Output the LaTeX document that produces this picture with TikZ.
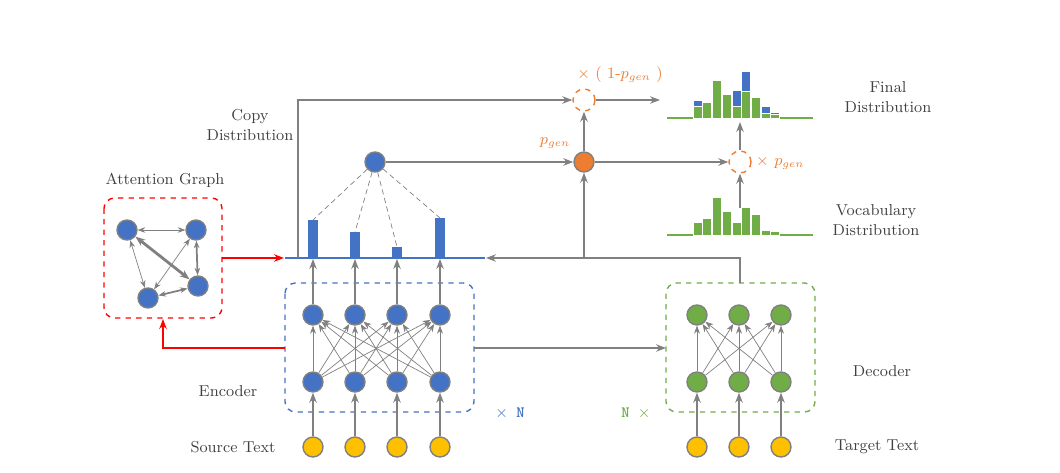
\documentclass[tikz,border=0pt]{standalone}
\usepackage{tikz}
\usetikzlibrary
  {
    arrows.meta,              % arrow heads
    positioning,              % place nodes relative to other nodes
    calc,
  }
\definecolor{encblue}{RGB}{68,114,196}
\definecolor{decgreen}{RGB}{112,173,71}
\definecolor{genorange}{RGB}{237,125,49}
\definecolor{srcyellow}{RGB}{255,192,0}
\definecolor{wire}{RGB}{128,128,128}
\definecolor{txt}{RGB}{64,64,64}

\begin{document}
\begin{tikzpicture}
    [
      x=0.2mm, y=-0.2mm,
      unit/.style=
        {
          circle,
          draw=wire,
          thick,
          minimum size=4mm,
          inner sep=0pt,
        },
      enc/.style={unit, fill=encblue},
      dec/.style={unit, fill=decgreen},
      src/.style={unit, fill=srcyellow},
      mult/.style=
        {
          circle,
          draw=genorange,
          dashed,
          thick,
          minimum size=4.4mm,
          inner sep=0pt,
        },
      flow/.style={draw=wire, thick, -{Stealth[length=2mm]}},
      label text/.style={text=txt, font=\small, align=center},
      orange text/.style={text=genorange, font=\small},
    ]
    \useasboundingbox (0,0) rectangle (1060,473);

    % encoder stack
    \draw[encblue, dashed, thick, rounded corners=6pt] (285,283) rectangle (474,412);
    \foreach \i/\x in {1/313,2/355,3/397,4/440}
      {
        \node[src] (s\i) at (\x,447) {};
        \node[enc] (eb\i) at (\x,382) {};
        \node[enc] (et\i) at (\x,315) {};
        \draw[flow] (s\i) -- (eb\i);
      }
    \foreach \i in {1,...,4}
      \foreach \j in {1,...,4}
        \draw[draw=wire, -{Stealth[length=1.6mm]}] (eb\i) -- (et\j);

    % decoder stack
    \draw[decgreen, dashed, thick, rounded corners=6pt] (666,283) rectangle (815,412);
    \foreach \i/\x in {1/697,2/739,3/781}
      {
        \node[src] (t\i) at (\x,447) {};
        \node[dec] (db\i) at (\x,382) {};
        \node[dec] (dt\i) at (\x,315) {};
        \draw[flow] (t\i) -- (db\i);
      }
    \foreach \i in {1,...,3}
      \foreach \j in {1,...,3}
        \draw[draw=wire, -{Stealth[length=1.6mm]}] (db\i) -- (dt\j);

    \coordinate (enc right) at (474,348);
    \coordinate (dec left)  at (666,348);
    \draw[flow] (enc right) -- (dec left);

    \node[label text] at (228,391) {Encoder};
    \node[label text] at (233,447) {Source Text};
    \node[label text] at (882,371) {Decoder};
    \node[label text] at (877,447) {Target Text};
    \node[text=encblue, font=\small\bfseries\ttfamily] at (510,413) {$\times$ N};
    \node[text=decgreen, font=\small\bfseries\ttfamily] at (636,413) {N $\times$};

    % copy distribution
    \draw[encblue, thick] (285,258) -- (485,258);
    \node[enc] (copy) at (375,162) {};
    \foreach \i/\x/\h in {1/313/220,2/355/232,3/397/247,4/440/218}
      {
        \fill[encblue] (\x-5,258) rectangle (\x+5,\h);
        \coordinate (bar\i) at (\x,\h);
        \draw[wire, densely dashed] (copy) -- (bar\i);
        \draw[flow] (et\i) -- (\x,259);
      }
    \node[label text] at (250,125) {Copy\\Distribution};

    % attention graph
    \draw[red, dashed, thick, rounded corners=6pt] (104,198) rectangle (222,318);
    \node[enc] (g1) at (127,230) {};
    \node[enc] (g2) at (196,230) {};
    \node[enc] (g3) at (148,298) {};
    \node[enc] (g4) at (198,286) {};
    \draw[wire, {Stealth[length=1.5mm]}-{Stealth[length=1.5mm]}] (g1) -- (g2);
    \draw[wire, {Stealth[length=1.5mm]}-{Stealth[length=1.5mm]}] (g1) -- (g3);
    \draw[wire, line width=1.6pt, {Stealth[length=2mm]}-{Stealth[length=2mm]}] (g1) -- (g4);
    \draw[wire, {Stealth[length=1.5mm]}-{Stealth[length=1.5mm]}] (g2) -- (g3);
    \draw[wire, line width=1pt, {Stealth[length=1.5mm]}-{Stealth[length=1.5mm]}] (g2) -- (g4);
    \draw[wire, line width=1pt, {Stealth[length=1.5mm]}-{Stealth[length=1.5mm]}] (g3) -- (g4);
    \node[label text] at (165,180) {Attention Graph};
    \draw[red, very thick, -{Stealth[length=2mm]}] (222,258) -- (284,258);
    \draw[red, very thick, -{Stealth[length=2mm]}] (285,348) -| (163,319);

    % generation switch
    \node[unit, fill=genorange] (gen) at (584,162) {};
    \node[mult] (copy mult) at (584,100) {};
    \node[mult] (vocab mult) at (740,162) {};
    \draw[flow] (copy) -- (gen);
    \draw[flow] (gen) -- (vocab mult);
    \draw[flow] (gen) -- (copy mult);
    \draw[flow] (298,258) |- (copy mult);
    \draw[flow] (copy mult) -- (660,100);
    \draw[flow] (740,283) |- (486,258);
    \draw[flow] (584,258) -- (gen);
    \node[orange text] at (555,143) {$p_{gen}$};
    \node[orange text] at (620,75) {$\times$ ( 1-$p_{gen}$ )};
    \node[orange text, anchor=west] at (750,163) {$\times$ $p_{gen}$};

    % vocabulary distribution
    \draw[decgreen, thick] (667,235) -- (813,235);
    \foreach \x/\h in {698/222,707/218,717/197,727/211,737/222,746/207,756/214,766/230,775/231}
      \fill[decgreen, draw=white, line width=0.3pt] (\x-4.7,235) rectangle (\x+4.7,\h);
    \draw[flow] (740,208) -- (vocab mult);
    \node[label text] at (876,220) {Vocabulary\\Distribution};

    % final distribution
    \draw[decgreen, thick] (667,118) -- (813,118);
    \foreach \x/\h/\b in {698/106/100,707/102/102,717/80/80,727/94/94,737/106/90,746/91/71,756/97/97,766/113/106,775/114/112}
      {
        \fill[encblue, draw=white, line width=0.3pt] (\x-4.7,\h) rectangle (\x+4.7,\b);
        \fill[decgreen, draw=white, line width=0.3pt] (\x-4.7,118) rectangle (\x+4.7,\h);
      }
    \draw[flow] (vocab mult) -- (740,122);
    \node[label text] at (888,97) {Final\\Distribution};
\end{tikzpicture}
\end{document}
